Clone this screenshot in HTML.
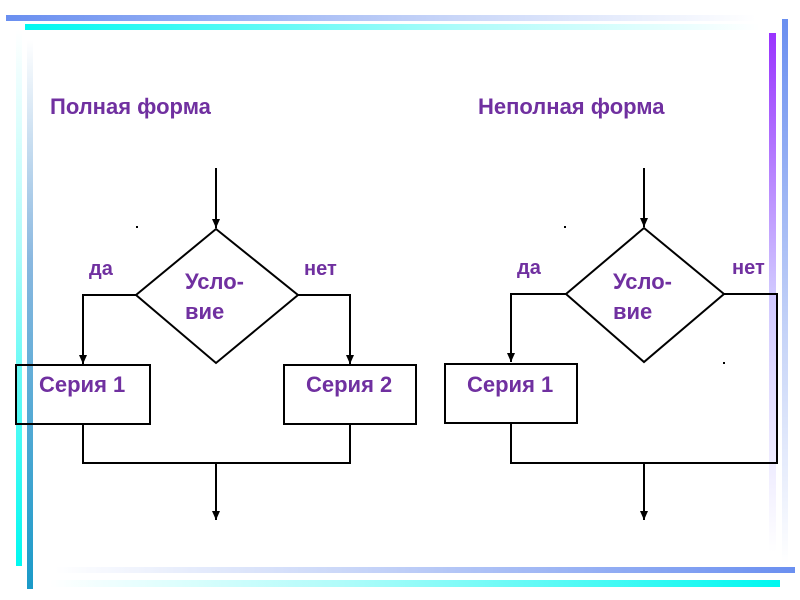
<!DOCTYPE html>
<html><head><meta charset="utf-8"><style>
html,body{margin:0;padding:0;background:#fff;}
.b{position:absolute;}
</style></head><body>
<div style="position:relative;width:800px;height:600px;overflow:hidden;background:#fff">
<div class="b" style="left:6px;top:15px;width:750px;height:6px;background:linear-gradient(90deg,#6a8ff0,#c9d6f8 60%,#fff)"></div>
<div class="b" style="left:25px;top:24px;width:735px;height:6px;background:linear-gradient(90deg,#00f8f0,#b0fcfa 60%,#fff)"></div>
<div class="b" style="left:782px;top:19px;width:6px;height:545px;background:linear-gradient(180deg,#6a8ff0,#c9d6f8 60%,#fff)"></div>
<div class="b" style="left:769px;top:33px;width:7px;height:520px;background:linear-gradient(180deg,#9933ff,#d0c8ff 50%,#fff)"></div>
<div class="b" style="left:16px;top:30px;width:6px;height:536px;background:linear-gradient(180deg,#fff,#b0fcfa 40%,#00f8f0)"></div>
<div class="b" style="left:27px;top:40px;width:6px;height:549px;background:linear-gradient(180deg,#fff,#8ab8e0 40%,#1a9ac8)"></div>
<div class="b" style="left:55px;top:567px;width:740px;height:6px;background:linear-gradient(90deg,#fff,#c9d6f8 40%,#6a8ff0)"></div>
<div class="b" style="left:50px;top:580px;width:730px;height:7px;background:linear-gradient(90deg,#fff,#b0fcfa 40%,#00f8f0)"></div>
<svg class="b" style="left:0;top:0" width="800" height="600" font-family="Liberation Sans, sans-serif" font-weight="bold" fill="#7030a0">
<defs><marker id="a" markerWidth="10" markerHeight="8" refX="9" refY="4" orient="auto" markerUnits="userSpaceOnUse"><path d="M0,0 L9,4 L0,8 Z" fill="#000"/></marker></defs>
<g font-size="22" fill="#7030a0">
<text x="50" y="114">Полная форма</text>
<text x="478" y="114">Неполная форма</text>
<text x="89" y="275" font-size="20">да</text>
<text x="304" y="275" font-size="20">нет</text>
<text x="517" y="274" font-size="20">да</text>
<text x="732" y="274" font-size="20">нет</text>
<text x="185" y="289">Усло-</text>
<text x="185" y="319">вие</text>
<text x="613" y="289">Усло-</text>
<text x="613" y="319">вие</text>
<text x="39" y="392">Серия 1</text>
<text x="306" y="392">Серия 2</text>
<text x="467" y="392">Серия 1</text>
</g>
<g stroke="#000" stroke-width="2" fill="none">
<line x1="216" y1="168" x2="216" y2="228" marker-end="url(#a)"/>
<polygon points="216,229 298,295 216,363 136,295"/>
<polyline points="136,295 83,295 83,364" marker-end="url(#a)"/>
<polyline points="298,295 350,295 350,364" marker-end="url(#a)"/>
<rect x="16" y="365" width="134" height="59"/>
<rect x="284" y="365" width="132" height="59"/>
<polyline points="83,424 83,463 350,463 350,424"/>
<line x1="216" y1="463" x2="216" y2="520" marker-end="url(#a)"/>
<line x1="644" y1="168" x2="644" y2="227" marker-end="url(#a)"/>
<polygon points="644,228 724,294 644,362 566,294"/>
<polyline points="566,294 511,294 511,362" marker-end="url(#a)"/>
<polyline points="724,294 777,294 777,463 511,463 511,423"/>
<rect x="445" y="364" width="132" height="59"/>
<line x1="644" y1="463" x2="644" y2="520" marker-end="url(#a)"/>
</g>
<rect x="136" y="226" width="2" height="2" fill="#000"/>
<rect x="564" y="226" width="2" height="2" fill="#000"/>
<rect x="723" y="362" width="2" height="2" fill="#000"/>
</svg>
</div>
</body></html>
